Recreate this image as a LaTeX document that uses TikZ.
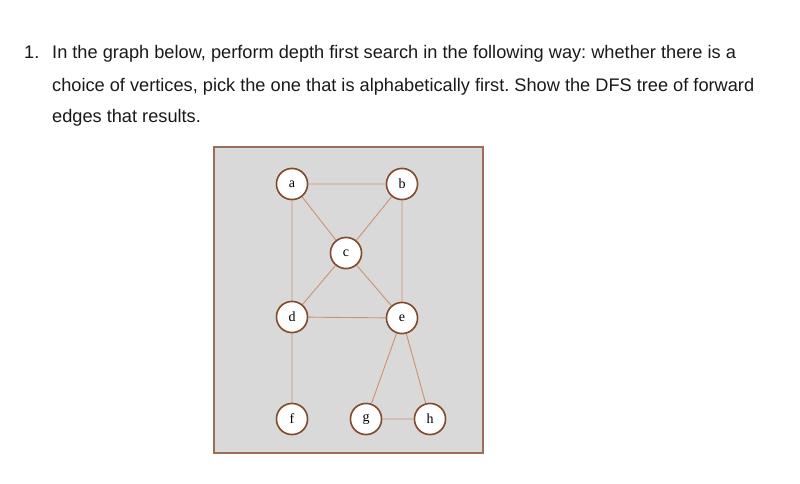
\documentclass[tikz,border=0pt]{standalone}
\usepackage{fontspec}
\setmainfont{Liberation Sans}
\newfontfamily\serifnode{Liberation Serif}
\definecolor{edgebrown}{RGB}{205,145,110}
\definecolor{ringbrown}{RGB}{130,75,45}
\definecolor{boxgray}{RGB}{217,217,217}
\begin{document}
\frenchspacing
\begin{tikzpicture}[x=1pt,y=-1pt,
  vert/.style={circle,draw=ringbrown,line width=1.5pt,fill=white,minimum size=31pt,inner sep=0pt,font=\serifnode\fontsize{14}{14}\selectfont},
  edge/.style={draw=edgebrown,line width=0.9pt},
  txt/.style={anchor=base west,inner sep=0pt,font=\fontsize{18.2}{18.2}\selectfont,text=black!90}]
\useasboundingbox (0,0) rectangle (800,484);
\node[txt] (n1) at (24,59) {1.};
\node[txt] (l1) at (52,59) {In the graph below, perform depth first search in the following way: whether there is a};
\node[txt] (l2) at (52,92) {choice of vertices, pick the one that is alphabetically first. Show the DFS tree of forward};
\node[txt] (l3) at (52,123) {edges that results.};
\node[draw=ringbrown!80,line width=1.2pt,fill=boxgray,minimum width=269pt,minimum height=306pt,inner sep=0pt] (frame) at (348.5,300) {};
\node[vert] (a) at (292,184) {a};
\node[vert] (b) at (402,184) {b};
\node[vert] (c) at (346,253) {c};
\node[vert] (d) at (292,317) {d};
\node[vert] (e) at (402,318) {e};
\node[vert] (f) at (292,419) {f};
\node[vert] (g) at (366,419) {g};
\node[vert] (h) at (430,419) {h};
\path[edge] (a)--(b) (a)--(c) (b)--(c) (a)--(d) (b)--(e) (c)--(d) (c)--(e) (d)--(e) (d)--(f) (e)--(g) (e)--(h) (g)--(h);
\foreach \v in {a,b,c,d,e,f,g,h} \node[vert] at (\v) {\v};
\end{tikzpicture}
\end{document}
